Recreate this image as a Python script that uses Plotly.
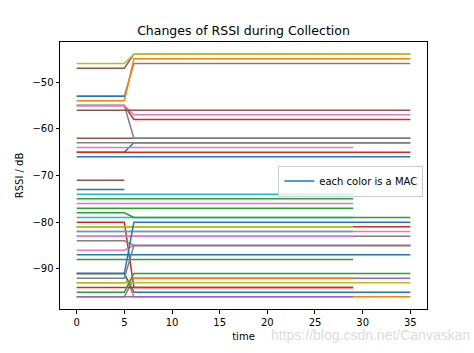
import plotly.graph_objects as go

# tab10 palette (matplotlib default cycle)
palette = {
    "blue": "#1f77b4", "orange": "#ff7f0e", "green": "#2ca02c", "red": "#d62728",
    "purple": "#9467bd", "brown": "#8c564b", "pink": "#e377c2", "gray": "#7f7f7f",
    "olive": "#bcbd22", "cyan": "#17becf",
}

# Each line (one MAC), in drawing order:
# colour, RSSI for t=0..5, RSSI from t=6 on (None = line stops at t=5), last time step
line_color = ["gray", "blue", "brown", "olive", "orange", "brown", "red", "gray", "pink", "brown",
              "blue", "gray", "pink", "red", "blue",
              "brown", "blue", "cyan", "green", "pink", "green", "cyan", "green", "red", "red",
              "olive", "pink", "cyan", "gray", "pink", "pink", "gray", "blue", "green",
              "orange", "blue", "blue", "gray", "purple", "orange", "olive", "red", "green", "purple"]
rssi_before = [-53, -53, -47, -46, -54, -62, -55, -55, -55, -56,
               -65, -63, -64, -65, -66,
               -71, -73, -74, -75, -76, -77, -79, -78, -80, -81,
               -81, -82, -82, -83, -83, -86, -84, -87, -88,
               -91, -91, -91, -92, -96, -93, -93, -94, -95, -96]
rssi_after = [-46, None, -44, -44, -45, -62, -58, -62, -57, -56,
              -63, -63, -64, -65, -66,
              None, None, -74, -75, -76, -77, -79, -79, -94, -81,
              -81, -82, -82, -83, -83, -85, -85, -87, -88,
              -96, -95, -80, -85, -92, -92, -93, -94, -91, -96]
last_time = [35, 5, 35, 35, 35, 35, 35, 35, 35, 35,
             35, 35, 29, 35, 35,
             5, 5, 29, 29, 29, 29, 29, 35, 29, 35,
             29, 35, 29, 35, 29, 35, 35, 35, 29,
             35, 35, 35, 35, 35, 29, 35, 29, 35, 29]

x_ticks = [0, 5, 10, 15, 20, 25, 30, 35]
y_ticks = [-90, -80, -70, -60, -50]

fig = go.Figure()
legend_done = False
for c, yb, ya, xe in zip(line_color, rssi_before, rssi_after, last_time):
    if ya is None:
        xs, ys = [0, 5], [yb, yb]
    else:
        xs, ys = [0, 5, 6, xe], [yb, yb, ya, ya]
    show = (c == "blue" and not legend_done)
    if show:
        legend_done = True
    fig.add_trace(go.Scatter(
        x=xs, y=ys, mode="lines",
        line=dict(color=palette[c], width=1.5),
        name="each color is a MAC", showlegend=show, hoverinfo="skip",
    ))

font_family = "DejaVu Sans"
fig.update_layout(
    width=474, height=353,
    margin=dict(l=59.5, r=47, t=42, b=39),
    paper_bgcolor="white", plot_bgcolor="white",
    font=dict(family=font_family, size=10, color="black"),
    title=dict(text="Changes of RSSI during Collection", x=0.5, xref="paper",
               y=1 - 31 / 353, yref="container", yanchor="middle",
               font=dict(size=12.5, color="black")),
    legend=dict(x=0.99, y=0.537, xanchor="right", yanchor="top",
                bgcolor="rgba(255,255,255,0.8)", bordercolor="#cccccc", borderwidth=1,
                font=dict(size=10), itemwidth=30),
    showlegend=True,
)
fig.update_xaxes(
    range=[-1.75, 36.75], tickvals=x_ticks, showgrid=False, zeroline=False,
    showline=True, linecolor="black", linewidth=1, mirror=True,
    ticks="outside", ticklen=3.5, tickcolor="black",
    title=dict(text="time", standoff=6, font=dict(size=10)),
)
fig.update_yaxes(
    range=[-98.6, -41.4], tickvals=y_ticks, showgrid=False, zeroline=False,
    showline=True, linecolor="black", linewidth=1, mirror=True,
    ticks="outside", ticklen=3.5, tickcolor="black",
    title=dict(text="RSSI / dB", standoff=6, font=dict(size=10)),
)
fig.add_annotation(
    text="https://blog.csdn.net/Canvaskan", xref="paper", yref="paper",
    x=0.845, y=-0.099, xanchor="center", yanchor="middle", showarrow=False,
    font=dict(size=14, color="#dcdcdc", family="Liberation Sans"),
)
fig.write_html("out.html")
